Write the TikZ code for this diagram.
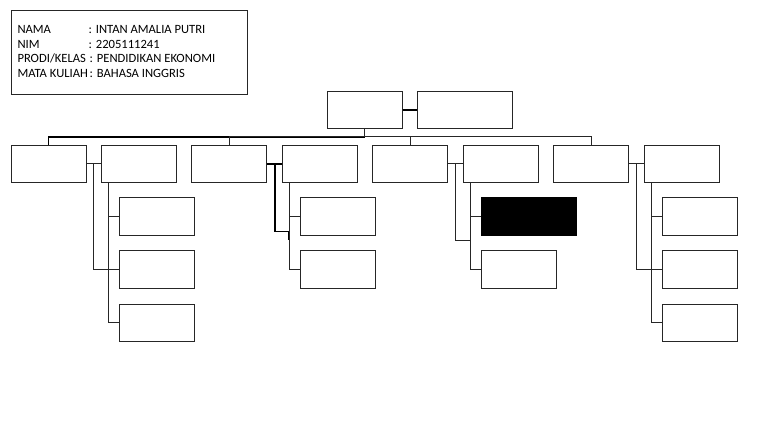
\documentclass[tikz,border=0pt]{standalone}
\usepackage{fontspec}
\setmainfont{Carlito}
\usetikzlibrary{calc}
\begin{document}
\begin{tikzpicture}[x=1pt,y=-1pt,
  box/.style={draw=black!85,line width=0.9pt,anchor=north west,inner sep=0pt,minimum width=75pt,minimum height=36.6pt},
  kid/.style={box,minimum height=37.5pt},
  wire/.style={draw=black!85,line width=0.9pt},
  heavy/.style={draw=black,line width=1.7pt},
  lbl/.style={anchor=base west,inner sep=0pt,font=\fontsize{12.6}{14}\selectfont}]
\useasboundingbox (0,0) rectangle (768,433);
% info box
\node[box,minimum width=236pt,minimum height=84pt] (info) at (11,10) {};
\node[lbl] (l1) at (17.3,34) {NAMA};
\node[lbl] (v1) at (88.5,34) {: INTAN AMALIA PUTRI};
\node[lbl] (l2) at (17.3,48.4) {NIM};
\node[lbl] (v2) at (88.5,48.4) {: 2205111241};
\node[lbl] (l3) at (17.3,62.9) {PRODI/KELAS};
\node[lbl] (v3) at (89.5,62.9) {: PENDIDIKAN EKONOMI};
\node[lbl] (l4) at (17.3,77.3) {MATA KULIAH};
\node[lbl] (v4) at (89.5,77.3) {: BAHASA INGGRIS};
% top boxes
\node[box,minimum width=75pt,minimum height=37.5pt] (t1) at (326.7,91) {};
\node[box,minimum width=94.4pt,minimum height=37.5pt] (t2) at (417.3,91) {};
% level 1
\node[box] (b1) at (10.5,145) {};
\node[box] (b2) at (101.3,145) {};
\node[box] (b3) at (191.3,145) {};
\node[box] (b4) at (282.3,145) {};
\node[box] (b5) at (372,145) {};
\node[box] (b6) at (463,145) {};
\node[box] (b7) at (553,145) {};
\node[box] (b8) at (644,145) {};
% children
\node[kid] (c21) at (119.3,197.3) {};
\node[kid] (c22) at (119.3,250) {};
\node[kid] (c23) at (119.3,303.7) {};
\node[kid] (c41) at (300.3,197.3) {};
\node[kid] (c42) at (300.3,250) {};
\node[kid,minimum width=94.7pt,fill=black,draw=black] (c61) at (481,197.3) {};
\node[kid] (c62) at (481,250) {};
\node[kid] (c81) at (662.3,197.3) {};
\node[kid] (c82) at (662.3,250) {};
\node[kid] (c83) at (662.3,303.7) {};
% top connectors
\draw[heavy] (t1.east) -- (t2.west);
\coordinate (bus) at ($(t1.south)+(0,7.5)$);
\draw[wire] (t1.south) -- (bus);
\draw[heavy,line width=1.5pt] (b1.north) |- (bus);
\draw[wire] (b3.north) |- (bus);
\draw[wire] (b5.north) |- (bus);
\draw[wire] (b7.north) |- (bus);
% pair 1-2
\coordinate (m12) at ($(b1.east)!0.5!(b2.west)$);
\draw[wire] (b1.east) -- (b2.west);
\draw[wire] (m12) |- (c22.west);
\draw[wire] ([xshift=7.4pt]b2.south west) |- (c23.west);
\draw[wire] ([xshift=7.4pt]b2.south west) |- (c21.west);
\draw[wire] ([xshift=7.4pt]b2.south west) |- (c22.west);
% pair 3-4
\coordinate (m34) at ($(b3.east)!0.5!(b4.west)$);
\draw[heavy] (b3.east) -- (b4.west);
\draw[heavy] (m34) -- ++(0,67.7) -- ++(14,0) -- ++(0,9);
\draw[wire] ([xshift=7pt]b4.south west) |- (c42.west);
\draw[wire] ([xshift=7pt]b4.south west) |- (c41.west);
% pair 5-6
\coordinate (m56) at ($(b5.east)!0.5!(b6.west)$);
\draw[wire] (b5.east) -- (b6.west);
\draw[wire] (m56) -- ++(0,77) -- ++(15.5,0);
\draw[wire] ([xshift=7pt]b6.south west) |- (c62.west);
\draw[wire] ([xshift=7pt]b6.south west) |- (c61.west);
% pair 7-8
\coordinate (m78) at ($(b7.east)!0.5!(b8.west)$);
\draw[wire] (b7.east) -- (b8.west);
\draw[wire] (m78) |- (c82.west);
\draw[wire] ([xshift=7.3pt]b8.south west) |- (c83.west);
\draw[wire] ([xshift=7.3pt]b8.south west) |- (c81.west);
\draw[wire] ([xshift=7.3pt]b8.south west) |- (c82.west);
\end{tikzpicture}
\end{document}
